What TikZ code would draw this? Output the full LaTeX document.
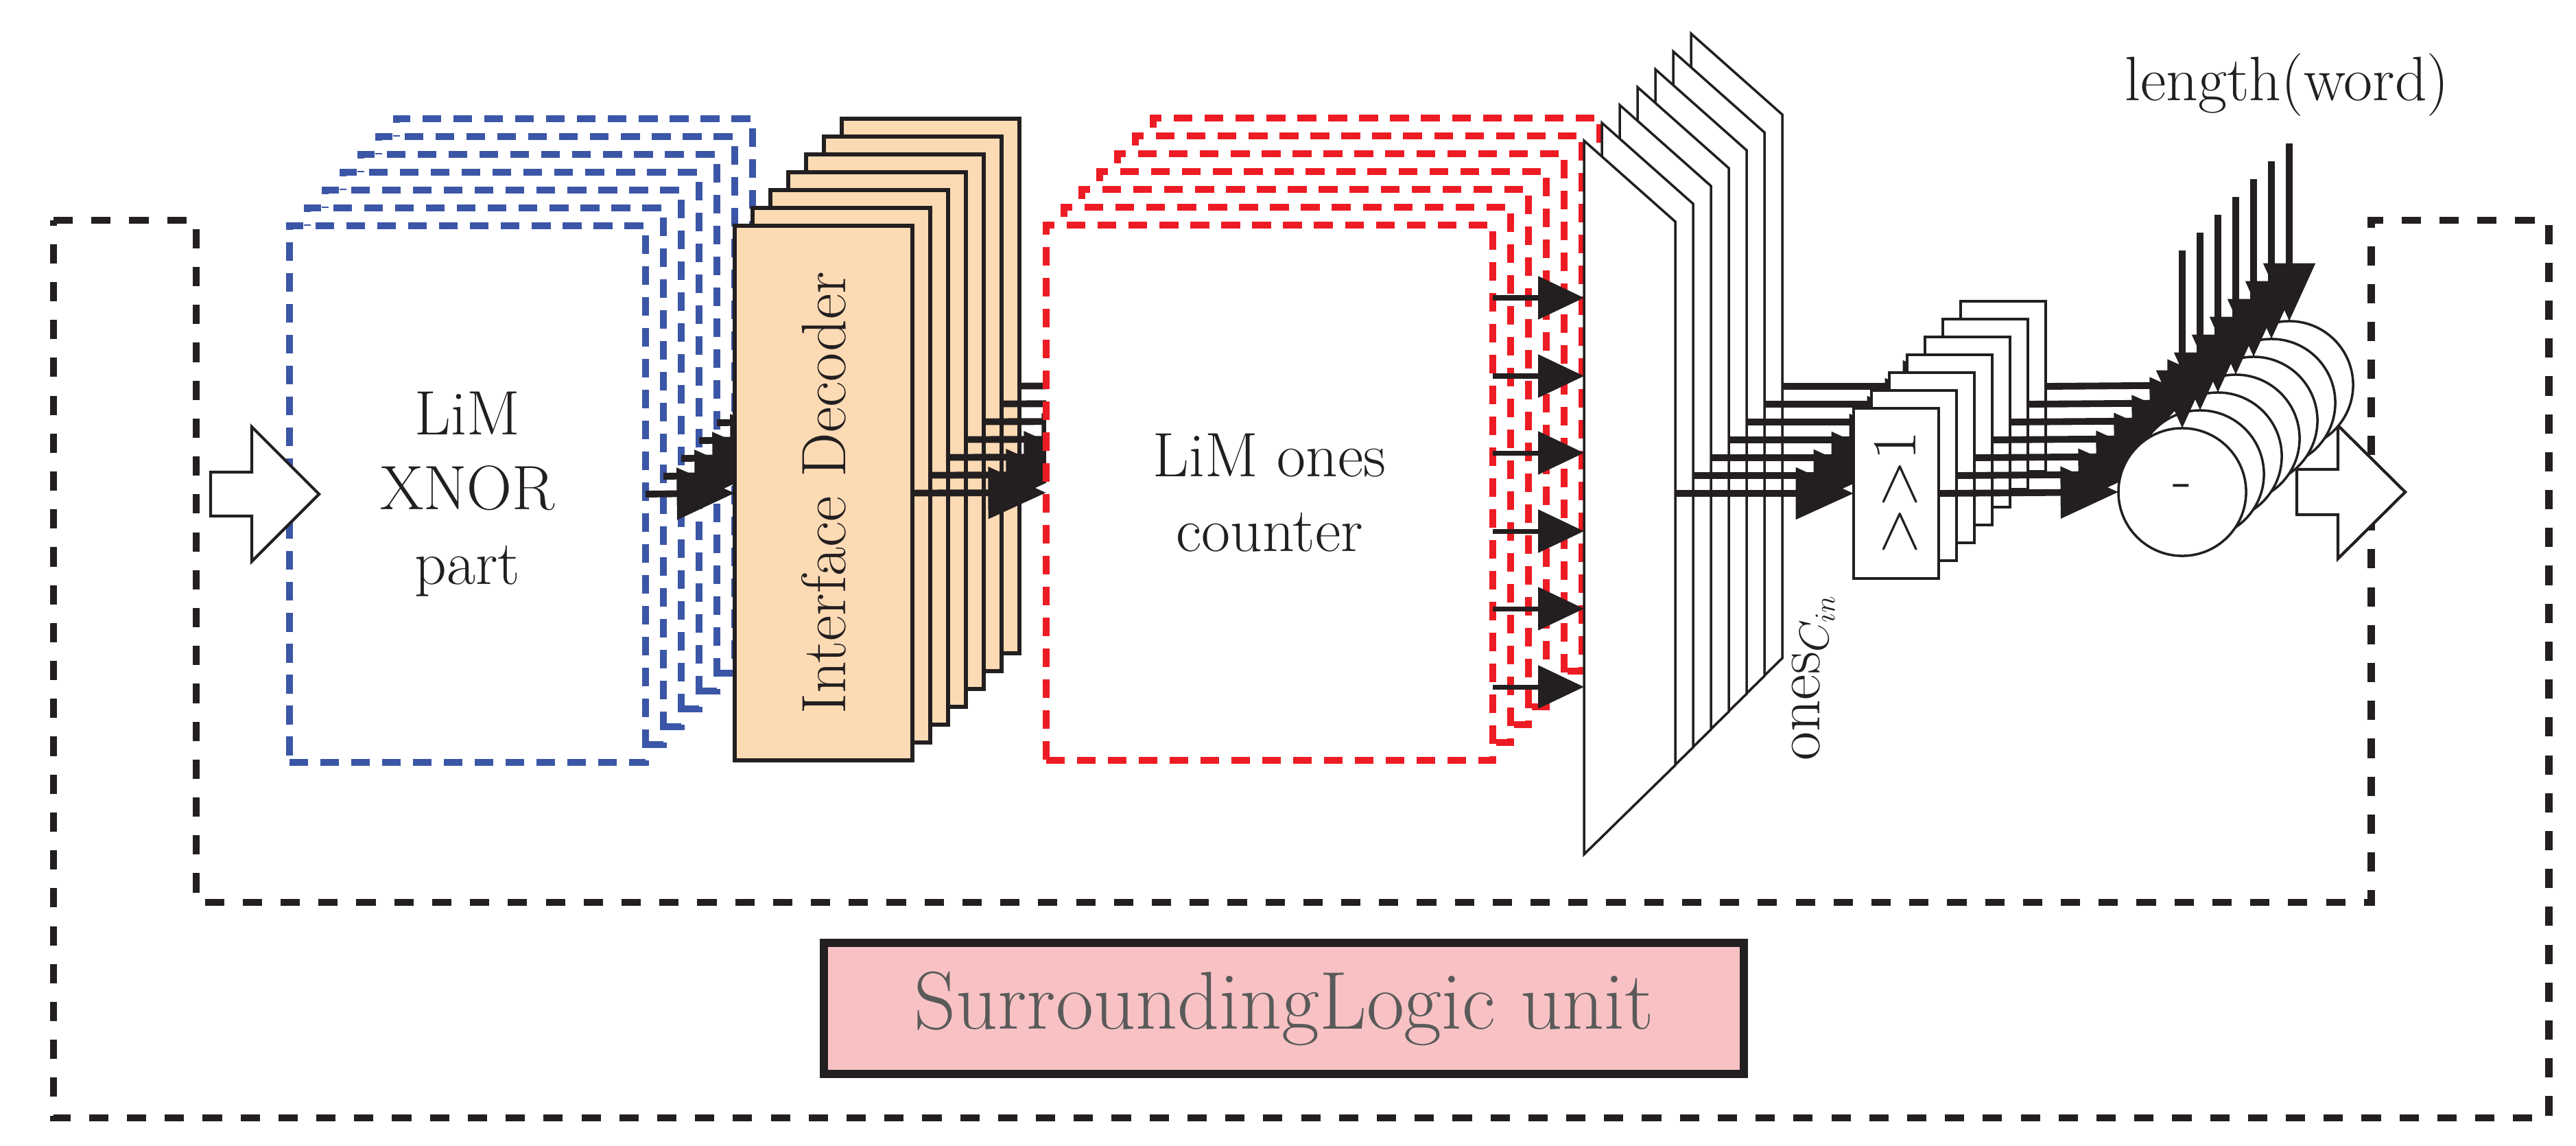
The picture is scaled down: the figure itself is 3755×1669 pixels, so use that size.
\documentclass[tikz,border=0pt]{standalone}
\usepackage{fontspec}
\usetikzlibrary{arrows.meta}
\definecolor{blueC}{RGB}{59,86,166}
\definecolor{redC}{RGB}{237,28,36}
\definecolor{peach}{RGB}{252,218,180}
\definecolor{pinkC}{RGB}{248,194,196}
\definecolor{grayT}{RGB}{90,90,90}
\definecolor{ink}{RGB}{35,31,32}
\tikzset{
  loop/.style={draw=ink, line width=3.1pt, dash pattern=on 8pt off 7.7pt},
  bluebox/.style={draw=blueC, fill=white, line width=2.8pt, dash pattern=on 7.7pt off 5.1pt,
    minimum width=5.19cm, minimum height=7.82cm, outer sep=0pt},
  decbox/.style={draw=ink, fill=peach, line width=1.6pt, minimum width=2.59cm, minimum height=7.79cm, outer sep=0pt},
  redbox/.style={draw=redC, fill=white, line width=2.8pt, dash pattern=on 7.7pt off 5.1pt,
    minimum width=6.51cm, minimum height=7.80cm, outer sep=0pt},
  muxsh/.style={draw=ink, fill=white, line width=1pt},
  shbox/.style={draw=ink, fill=white, line width=1pt, minimum width=1.24cm, minimum height=2.48cm, outer sep=0pt},
  sub/.style={circle, draw=ink, fill=white, line width=1pt, minimum size=1.86cm, inner sep=0pt, outer sep=0pt},
  bigarr/.style={draw=ink, line width=2.8pt, -{Triangle[length=24pt,width=21pt]}},
  smallarr/.style={draw=ink, line width=2pt, -{Triangle[length=19pt,width=17.5pt]}},
  fatarr/.style={draw=ink, fill=white, line width=1.2pt, line join=miter},
  lbl/.style={font=\fontsize{26}{31}\selectfont, text=ink, align=center}
}
\begin{document}
\begin{tikzpicture}[x=0.01cm, y=-0.01cm]
\useasboundingbox (0,0) rectangle (3755,1669);
% surrounding loop
\draw[loop] (78,321) -- (286,321) -- (286,1315) -- (3456,1315) -- (3456,321) -- (3715,321)
  -- (3715,1629) -- (78,1629) -- cycle;
% output arrow (behind the subtractors)
\draw[fatarr] (3348,684) -- (3408,684) -- (3408,620) -- (3506,717) -- (3408,814) -- (3408,750) -- (3348,750) -- cycle;
% layers, back to front
\foreach \k in {6,...,0}{
\begin{scope}[shift={(26*\k,-26*\k)}]
  \node[bluebox] (b\k) at (681.5,720) {};
  \node[decbox] (d\k) at (1200.5,718.5) {};
  \node[redbox] (r\k) at (1850.5,718) {};
  \draw[muxsh] (2309,205) -- (2442,323) -- (2442,1115) -- (2309,1245) -- cycle;
  \coordinate (mo\k) at (2442,719);
  \node[shbox] (s\k) at (2764,719) {};
  \node[sub] (c\k) at (3181,717) {};
  \coordinate (lw\k) at (3181,365);
  \draw[bigarr] (b\k.east) -- (d\k.west);
  \draw[bigarr] (d\k.east) -- (r\k.west);
  \draw[bigarr] (mo\k) -- (s\k.west);
  \draw[bigarr] (s\k.east) -- (c\k.west);
  \draw[bigarr] (lw\k) -- (c\k.north);
  \ifnum\k=0
    \foreach \yy in {434,548,660,774,887,1001}{
      \coordinate (m0-\yy) at (2309,\yy);
      \draw[smallarr] (r0.east |- m0-\yy) -- (m0-\yy);
    }
    \node[lbl] at (b0) {LiM\\XNOR\\part};
    \node[lbl, rotate=90] at (d0) {Interface Decoder};
    \node[lbl] at (r0) {LiM ones\\counter};
    \node[lbl, rotate=90] at (s0) {>{}>1};
    \node[lbl] at (c0) {-};
  \fi
\end{scope}
}
% input arrow
\draw[fatarr] (307,688) -- (367,688) -- (367,622) -- (465,720) -- (367,818) -- (367,752) -- (307,752) -- cycle;
\node[lbl, rotate=90] (ones) at (2643,987) {ones$_{C_{in}}$};
\node[lbl] (lw) at (3334,124) {length(word)};
\node[draw=ink, fill=pinkC, line width=3.4pt, minimum width=13.41cm, minimum height=1.91cm,
  font=\fontsize{34}{40}\selectfont, text=grayT] (sl) at (1871.5,1469.5) {SurroundingLogic unit};
\end{tikzpicture}
\end{document}
